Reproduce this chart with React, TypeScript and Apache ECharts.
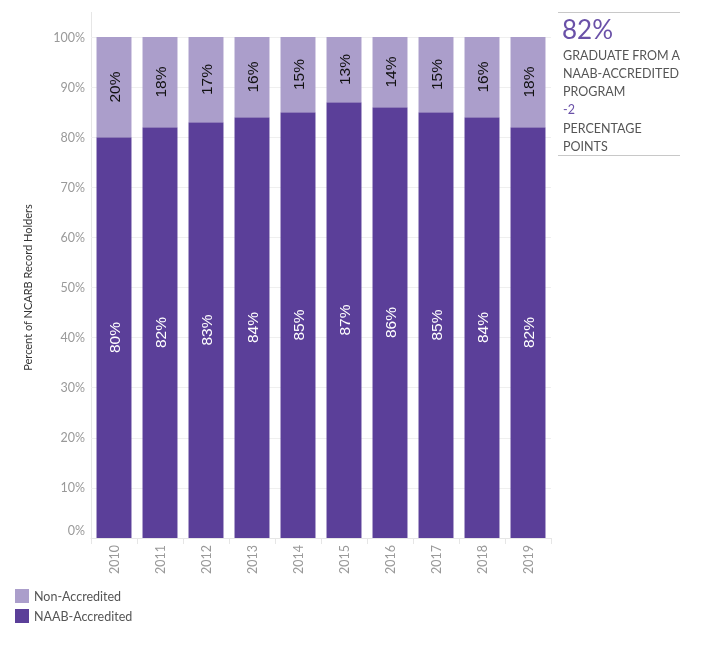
import React, { useEffect, useRef } from "react";
import * as echarts from "echarts";

const years = ["2010", "2011", "2012", "2013", "2014", "2015", "2016", "2017", "2018", "2019"];
const accredited = [80, 82, 83, 84, 85, 87, 86, 85, 84, 82];
const nonAccredited = [20, 18, 17, 16, 15, 13, 14, 15, 16, 18];
const yTicks = [0, 10, 20, 30, 40, 50, 60, 70, 80, 90, 100];
const panelLines = ["GRADUATE FROM A", "NAAB-ACCREDITED", "PROGRAM"];
const panelValue = "82%";
const panelChange = "-2";
const panelChangeLines = ["PERCENTAGE", "POINTS"];

const DARK = "#5b3f99";
const LIGHT = "#ab9ecb";
const FONT = "Lato, 'Noto Sans', sans-serif";
const LABEL_FONT = "'Liberation Sans', Arial, sans-serif";

export default function App() {
  const ref = useRef<HTMLDivElement>(null);
  useEffect(() => {
    const chart = echarts.init(ref.current!, null, { renderer: "svg" });
    const textStyle = { fill: "#555", fontSize: 12.5, fontFamily: FONT };
    const graphics: any[] = [
      { type: "line", shape: { x1: 91.5, y1: 12, x2: 91.5, y2: 538 }, style: { stroke: "#e6e6e6", lineWidth: 1 } },
      { type: "line", shape: { x1: 558, y1: 12.5, x2: 680, y2: 12.5 }, style: { stroke: "#c8c8c8", lineWidth: 1 } },
      { type: "line", shape: { x1: 558, y1: 155.5, x2: 680, y2: 155.5 }, style: { stroke: "#c8c8c8", lineWidth: 1 } },
      { type: "text", x: 562, y: 16, style: { text: panelValue, fill: "#6a51a8", fontSize: 26, fontFamily: FONT } },
    ];
    panelLines.forEach((t, i) => {
      graphics.push({ type: "text", x: 563, y: 49 + i * 18, style: { text: t, ...textStyle } });
    });
    graphics.push({ type: "text", x: 563, y: 103, style: { text: panelChange, fill: "#6a51a8", fontSize: 12.5, fontFamily: FONT } });
    panelChangeLines.forEach((t, i) => {
      graphics.push({ type: "text", x: 563, y: 122 + i * 18, style: { text: t, ...textStyle } });
    });

    chart.setOption({
      animation: false,
      textStyle: { fontFamily: FONT },
      grid: { left: 91, top: 37, width: 460, height: 501, containLabel: false },
      legend: {
        orient: "vertical",
        left: 15,
        top: 589,
        padding: 0,
        itemWidth: 14,
        itemHeight: 14,
        itemGap: 6,
        icon: "rect",
        data: ["Non-Accredited", "NAAB-Accredited"],
        textStyle: { color: "#555", fontSize: 12.5, fontFamily: FONT, padding: [0, 0, 0, 0] },
      },
      xAxis: {
        type: "category",
        data: years,
        axisLine: { show: true, lineStyle: { color: "#e6e6e6" } },
        axisTick: { show: true, length: 6, lineStyle: { color: "#e6e6e6" } },
        axisLabel: { rotate: 90, color: "#999", fontSize: 12.5, fontFamily: FONT, margin: 7 },
      },
      yAxis: {
        type: "value",
        min: 0,
        max: 100,
        interval: 10,
        name: "Percent of NCARB Record Holders",
        nameLocation: "middle",
        nameGap: 58,
        nameTextStyle: { color: "#333", fontSize: 11, fontFamily: FONT },
        axisLine: { show: false },
        axisTick: { show: false },
        splitLine: { lineStyle: { color: "#efefef" } },
        axisLabel: {
          color: "#999",
          fontSize: 12.5,
          fontFamily: FONT,
          margin: 6,
          formatter: (v: number) => (yTicks.includes(v) ? (v === 0 ? "{z|0%}" : v + "%") : ""),
          rich: { z: { color: "#999", fontSize: 12.5, fontFamily: FONT, padding: [0, 0, 16, 0] } },
        },
      },
      series: [
        {
          name: "NAAB-Accredited",
          type: "bar",
          stack: "total",
          data: accredited,
          barCategoryGap: "24%",
          itemStyle: { color: DARK },
          label: {
            show: true,
            position: "inside",
            rotate: 90,
            formatter: (p: any) => p.value + "%",
            color: "#fff",
            fontSize: 15.5,
            fontFamily: LABEL_FONT,
          },
        },
        {
          name: "Non-Accredited",
          type: "bar",
          stack: "total",
          data: nonAccredited,
          barCategoryGap: "24%",
          itemStyle: { color: LIGHT },
          label: {
            show: true,
            position: "inside",
            rotate: 90,
            formatter: (p: any) => p.value + "%",
            color: "#111",
            fontSize: 15.5,
            fontFamily: LABEL_FONT,
          },
        },
      ],
      graphic: graphics,
    });
    return () => chart.dispose();
  }, []);
  return <div ref={ref} style={{ position: "fixed", left: 0, top: 0, width: 718, height: 649 }} />;
}
